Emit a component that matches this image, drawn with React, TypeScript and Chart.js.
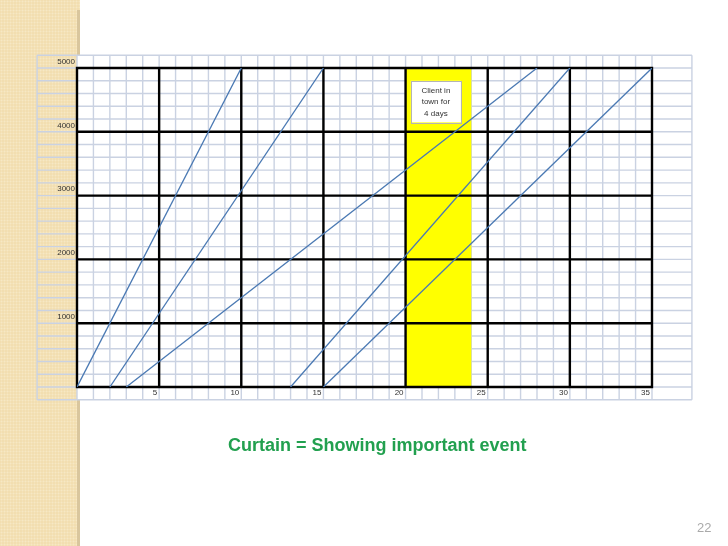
import { useEffect, useRef } from "react";
import { Chart, registerables } from "chart.js";

Chart.register(...registerables);

// each run: day it starts at 0, day it reaches 5000
const startDays = [0, 2, 3, 13, 15];
const endDays = [10, 15, 28, 30, 35];
const startUnits = [0, 0, 0, 0, 0];
const endUnits = [5000, 5000, 5000, 5000, 5000];

const xTickLabels = [5, 10, 15, 20, 25, 30, 35];
const yTickLabels = [1000, 2000, 3000, 4000, 5000];

// the "curtain" (client visit)
const curtainFrom = 20;
const curtainTo = 24;
const curtainNote = ["Client in", "town for", "4 days"];

const FONT = "'Liberation Sans', Arial, sans-serif";

// spreadsheet cells around the plot (data units)
const sheetLeft = -2.43;
const sheetRight = 37.43;
const sheetBottom = -200;
const sheetTop = 5200;

const sheetPlugin = {
  id: "sheet",
  beforeDraw(chart: any) {
    const { ctx } = chart;
    const xs = chart.scales.x;
    const ys = chart.scales.y;
    const px = (v: number) => xs.getPixelForValue(v);
    const py = (v: number) => ys.getPixelForValue(v);
    const L = px(sheetLeft);
    const R = px(sheetRight);
    const T = py(sheetTop);
    const B = py(sheetBottom);

    ctx.save();
    // plot cells are white, the label column stays see-through
    ctx.fillStyle = "#ffffff";
    ctx.fillRect(px(0), T, R - px(0), B - T);

    // light cell grid
    ctx.strokeStyle = "#cad2e2";
    ctx.lineWidth = 1.4;
    ctx.beginPath();
    for (let v = sheetBottom; v <= sheetTop + 1; v += 200) {
      const y = py(v);
      ctx.moveTo(L, y);
      ctx.lineTo(R, y);
    }
    const cols = [sheetLeft, sheetRight];
    for (let d = 0; d <= 35; d++) cols.push(d);
    for (const d of cols) {
      const x = px(d);
      ctx.moveTo(x, T);
      ctx.lineTo(x, B);
    }
    ctx.stroke();

    // curtain
    ctx.fillStyle = "#ffff00";
    ctx.fillRect(px(curtainFrom), py(5000), px(curtainTo) - px(curtainFrom), py(0) - py(5000));

    // heavy grid
    ctx.strokeStyle = "#000000";
    ctx.lineWidth = 2.4;
    ctx.beginPath();
    for (let d = 0; d <= 35; d += 5) {
      ctx.moveTo(px(d), py(0) + 1.2);
      ctx.lineTo(px(d), py(5000) - 1.2);
    }
    for (let v = 0; v <= 5000; v += 1000) {
      ctx.moveTo(px(0), py(v));
      ctx.lineTo(px(35), py(v));
    }
    ctx.stroke();
    ctx.restore();
  },
  afterDatasetsDraw(chart: any) {
    const { ctx } = chart;
    const xs = chart.scales.x;
    const ys = chart.scales.y;
    const x0 = xs.getPixelForValue(20.32);
    const x1 = xs.getPixelForValue(23.37);
    const y0 = ys.getPixelForValue(4799);
    const y1 = ys.getPixelForValue(4147);
    ctx.save();
    ctx.fillStyle = "#ffffff";
    ctx.fillRect(x0, y0, x1 - x0, y1 - y0);
    ctx.strokeStyle = "#b4b4b4";
    ctx.lineWidth = 1;
    ctx.strokeRect(Math.round(x0) + 0.5, Math.round(y0) + 0.5, Math.round(x1 - x0), Math.round(y1 - y0));
    ctx.fillStyle = "#333333";
    ctx.font = `8px ${FONT}`;
    ctx.textAlign = "center";
    ctx.textBaseline = "middle";
    curtainNote.forEach((t, i) => {
      ctx.fillText(t, (x0 + x1) / 2, y0 + 10 + i * 11.3);
    });
    ctx.restore();
  },
};

export default function App() {
  const canvasRef = useRef<HTMLCanvasElement | null>(null);
  const chartRef = useRef<Chart | null>(null);

  useEffect(() => {
    const canvas = canvasRef.current;
    if (!canvas) return;

    const datasets = startDays.map((s, i) => ({
      label: `Run ${i + 1}`,
      data: [
        { x: s, y: startUnits[i] },
        { x: endDays[i], y: endUnits[i] },
      ],
      borderColor: "#4a79b3",
      borderWidth: 1.3,
      pointRadius: 0,
      tension: 0,
      fill: false,
    }));

    chartRef.current = new Chart(canvas, {
      type: "line",
      data: { datasets },
      plugins: [sheetPlugin],
      options: {
        responsive: true,
        maintainAspectRatio: false,
        animation: false,
        layout: { padding: { left: 37, top: 68, right: 76, bottom: 147 } },
        plugins: {
          legend: { display: false },
          tooltip: { enabled: false },
        },
        scales: {
          x: {
            type: "linear",
            min: 0,
            max: 35,
            grid: { display: false, drawTicks: false },
            border: { display: false },
            ticks: {
              stepSize: 5,
              autoSkip: false,
              maxRotation: 0,
              align: "end",
              labelOffset: -2,
              padding: 1,
              color: "#333333",
              font: { family: FONT, size: 8 },
              callback: (v: any) => (xTickLabels.includes(Number(v)) ? String(v) : ""),
            },
            afterFit: (s: any) => {
              s.height = 12;
            },
          },
          y: {
            type: "linear",
            min: 0,
            max: 5000,
            grid: { display: false, drawTicks: false },
            border: { display: false },
            ticks: {
              stepSize: 1000,
              labelOffset: -6.5,
              padding: 2,
              color: "#333333",
              font: { family: FONT, size: 8 },
              callback: (v: any) => (yTickLabels.includes(Number(v)) ? String(v) : ""),
            },
            afterFit: (s: any) => {
              s.width = 40;
            },
          },
        },
      },
    } as any);

    return () => {
      if (chartRef.current) {
        chartRef.current.destroy();
        chartRef.current = null;
      }
    };
  }, []);

  return (
    <div
      style={{
        position: "absolute",
        left: 0,
        top: 0,
        width: 728,
        height: 546,
        background: "#ffffff",
        overflow: "hidden",
        fontFamily: FONT,
      }}
    >
      <div
        style={{
          position: "absolute",
          left: 0,
          top: 0,
          width: 80,
          height: 546,
          backgroundColor: "#f2deb0",
          backgroundImage: "radial-gradient(circle, #f6e8c4 0.7px, transparent 1.2px)",
          backgroundSize: "3px 3px",
        }}
      />
      <div
        style={{ position: "absolute", left: 77, top: 10, width: 3, height: 536, background: "#d9c69d" }}
      />
      <div style={{ position: "absolute", left: 0, top: 0, width: 728, height: 546 }}>
        <canvas ref={canvasRef} />
      </div>
      <div
        style={{
          position: "absolute",
          left: 228,
          top: 434,
          lineHeight: "22px",
          fontSize: 18,
          fontWeight: "bold",
          color: "#22a04f",
          whiteSpace: "nowrap",
        }}
      >
        Curtain = Showing important event
      </div>
      <div
        style={{
          position: "absolute",
          left: 697,
          top: 520,
          lineHeight: "16px",
          fontSize: 13,
          color: "#aaaaaa",
        }}
      >
        22
      </div>
    </div>
  );
}
